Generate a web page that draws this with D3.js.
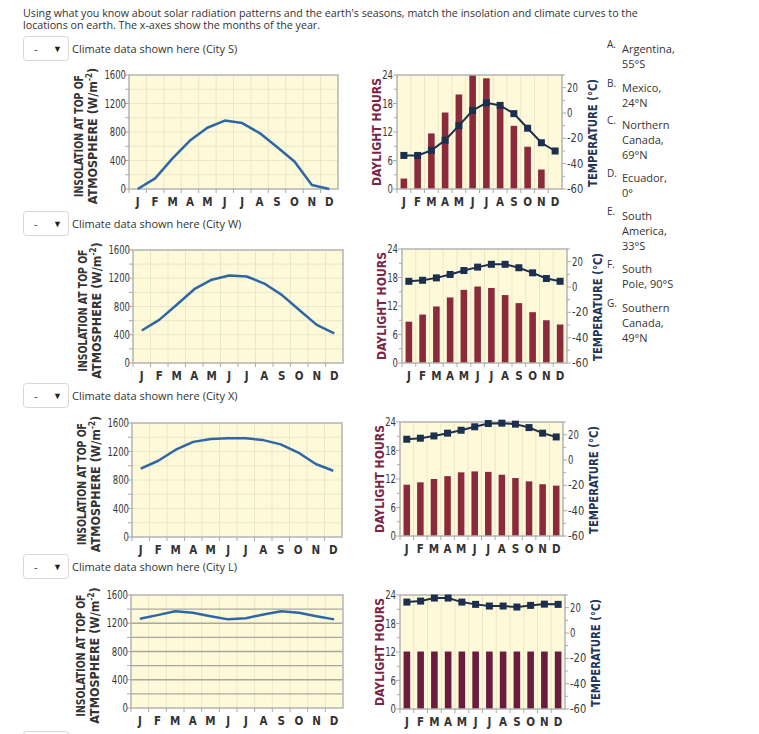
<!DOCTYPE html>
<html>
<head>
<meta charset="utf-8">
<script src="https://cdn.jsdelivr.net/npm/d3@7"></script>
<style>
body { margin: 0; background: #fff; }
text { font-family: "Open Sans", sans-serif; }
.ax { font-family: "DejaVu Sans Condensed", "DejaVu Sans", sans-serif; font-stretch: condensed; }
</style>
</head>
<body>
<div id="chart"></div>
<script>
// months on every x axis
var months = ["J","F","M","A","M","J","J","A","S","O","N","D"];
var cityNames = ["S", "W", "X", "L"];

// insolation at top of atmosphere, W/m2
var insolS = [0, 150, 430, 680, 860, 960, 925, 785, 590, 385, 55, 0];
var insolW = [460, 610, 825, 1045, 1180, 1240, 1225, 1125, 965, 750, 540, 420];
var insolX = [960, 1070, 1225, 1335, 1375, 1385, 1385, 1360, 1300, 1185, 1025, 930];
var insolL = [1265, 1315, 1370, 1350, 1300, 1255, 1270, 1325, 1370, 1350, 1300, 1255];

// daylight hours (bars)
var dayS = [2.2, 7.2, 11.7, 16.1, 19.9, 24, 23.3, 17.3, 13.3, 8.9, 4.1, 0];
var dayW = [8.7, 10.2, 11.9, 13.8, 15.4, 16.1, 15.8, 14.3, 12.6, 10.7, 9.0, 8.1];
var dayX = [10.8, 11.3, 12.0, 12.6, 13.4, 13.6, 13.5, 12.9, 12.2, 11.5, 10.9, 10.6];
var dayL = [12.1, 12.1, 12.1, 12.1, 12.1, 12.1, 12.1, 12.1, 12.1, 12.1, 12.1, 12.1];

// temperature, deg C
var tempS = [-33.5, -33.5, -29.5, -21.5, -10, 2, 8, 6, -0.5, -12, -23.5, -30];
var tempW = [4.5, 5.3, 7.2, 9.9, 13, 15.7, 17.9, 17.9, 15.2, 11.2, 6.7, 4.5];
var tempX = [16.4, 17.2, 19, 21.2, 23.5, 26.2, 28.8, 29.1, 28.3, 25.6, 21.2, 18.2];
var tempL = [24.4, 25.2, 27.6, 27.6, 24.4, 22.6, 21.3, 21.3, 20.5, 21.8, 22.8, 22.6];

var insolTicks = [0, 400, 800, 1200, 1600];
var dayTicks = [0, 6, 12, 18, 24];
var tempTicks = [-60, -40, -20, 0, 20];

// answer choices
var choiceLetters = ["A.", "B.", "C.", "D.", "E.", "F.", "G."];
var choiceLines = [
  ["Argentina,", "55°S"],
  ["Mexico,", "24°N"],
  ["Northern", "Canada,", "69°N"],
  ["Ecuador,", "0°"],
  ["South", "America,", "33°S"],
  ["South", "Pole, 90°S"],
  ["Southern", "Canada,", "49°N"]
];

var insols = [insolS, insolW, insolX, insolL];
var days = [dayS, dayW, dayX, dayL];
var temps = [tempS, tempW, tempX, tempL];

// layout of the four rows (plot boxes)
var rows = [
  {sel: 53,  L: [129, 338, 75, 189],  R: [397, 562, 75, 189]},
  {sel: 228, L: [133, 343, 250, 363], R: [402, 567, 249, 363]},
  {sel: 400, L: [132, 342, 423, 537], R: [400, 563, 422, 536]},
  {sel: 571, L: [131, 343, 595, 708], R: [400, 565, 595, 709]}
];

var svg = d3.select("#chart").append("svg")
  .attr("width", 759).attr("height", 734);

// question text
svg.append("text").attr("x", 23).attr("y", 16.5).attr("font-size", 10.7).attr("fill", "#333")
  .text("Using what you know about solar radiation patterns and the earth's seasons, match the insolation and climate curves to the");
svg.append("text").attr("x", 23).attr("y", 29).attr("font-size", 10.7).attr("fill", "#333")
  .text("locations on earth.  The x-axes show the months of the year.");

// choices on the right
var cy = [48, 87, 124, 177, 215, 268, 307];
choiceLetters.forEach(function(l, i) {
  svg.append("text").attr("x", 607).attr("y", cy[i]).attr("font-size", 10).attr("fill", "#333").text(l);
  choiceLines[i].forEach(function(s, j) {
    svg.append("text").attr("x", 622).attr("y", cy[i] + 5 + j * 15)
      .attr("font-size", 11).attr("fill", "#333").text(s);
  });
});

function dropdown(y) {
  var g = svg.append("g");
  g.append("rect").attr("x", 23.5).attr("y", y - 16.5).attr("width", 45).attr("height", 24)
    .attr("rx", 3).attr("fill", "#fff").attr("stroke", "#d8d8d8");
  g.append("text").attr("x", 34).attr("y", y).attr("font-size", 11).attr("fill", "#333").text("-");
  g.append("text").attr("x", 53).attr("y", y - 1).attr("font-size", 9).attr("fill", "#222").text("▼");
  return g;
}

rows.forEach(function(r, k) {
  dropdown(r.sel);
  svg.append("text").attr("x", 72).attr("y", r.sel).attr("font-size", 11).attr("fill", "#333")
    .text("Climate data shown here (City " + cityNames[k] + ")");
  drawInsol(r.L, insols[k], k == 3);
  drawClimate(r.R, days[k], temps[k], k == 3);
});
// next dropdown, cut off at the bottom
svg.append("rect").attr("x", 23.5).attr("y", 731.5).attr("width", 45).attr("height", 24)
  .attr("rx", 3).attr("fill", "#fff").attr("stroke", "#d8d8d8");

function monthAxis(g, x, bottom) {
  x.domain().forEach(function(d, i) {
    g.append("line").attr("x1", x(d)).attr("x2", x(d)).attr("y1", bottom).attr("y2", bottom + 4)
      .attr("stroke", "#aaa");
  });
  g.selectAll(".mlab").data(months).enter().append("text")
    .attr("class", "ax")
    .attr("x", function(d, i) { return x(i) + x.bandwidth() / 2; })
    .attr("y", bottom + 17)
    .attr("text-anchor", "middle").attr("font-size", 11.5).attr("font-weight", "bold")
    .attr("fill", "#333").text(function(d) { return d; });
}

function tickText(sel) {
  // condensed look for axis numbers
  sel.attr("class", "ax").attr("font-size", 12).attr("fill", "#383838")
    .attr("textLength", function(d) { return String(d).length * 5.4; })
    .attr("lengthAdjust", "spacingAndGlyphs");
}

function drawInsol(b, vals, darkGrid) {
  var g = svg.append("g");
  var x = d3.scaleBand().domain(d3.range(12)).range([b[0], b[1]]);
  var y = d3.scaleLinear().domain([0, 1600]).range([b[3], b[2]]);

  g.append("rect").attr("x", b[0]).attr("y", b[2]).attr("width", b[1] - b[0]).attr("height", b[3] - b[2])
    .attr("fill", "#fdf9d9");
  // grid
  d3.range(1, 12).forEach(function(i) {
    g.append("line").attr("x1", x(i)).attr("x2", x(i)).attr("y1", b[2]).attr("y2", b[3])
      .attr("stroke", "#ebe7c8").attr("stroke-width", 1);
  });
  d3.range(200, 1600, 200).forEach(function(v) {
    g.append("line").attr("x1", b[0]).attr("x2", b[1]).attr("y1", y(v)).attr("y2", y(v))
      .attr("stroke", darkGrid ? "#a8a8a0" : "#ebe7c8").attr("stroke-width", darkGrid ? 1.3 : 1);
  });
  g.append("rect").attr("x", b[0]).attr("y", b[2]).attr("width", b[1] - b[0]).attr("height", b[3] - b[2])
    .attr("fill", "none").attr("stroke", "#b4b4b4").attr("stroke-width", 1.5);

  // y ticks
  d3.range(0, 1601, 200).forEach(function(v) {
    g.append("line").attr("x1", b[0] - 4).attr("x2", b[0]).attr("y1", y(v)).attr("y2", y(v))
      .attr("stroke", "#aaa");
  });
  g.selectAll(".yl").data(insolTicks).enter().append("text")
    .attr("x", b[0] - 3).attr("y", function(d) { return y(d) + 4; })
    .attr("text-anchor", "end")
    .call(tickText)
    .text(function(d) { return d; });
  monthAxis(g, x, b[3]);

  var line = d3.line()
    .x(function(d, i) { return x(i) + x.bandwidth() / 2; })
    .y(function(d) { return y(d); });
  g.append("path").datum(vals).attr("d", line).attr("fill", "none")
    .attr("stroke", "#2e67a6").attr("stroke-width", 2.5).attr("stroke-linejoin", "round");

  // axis title
  var mid = (b[2] + b[3]) / 2 + 4;
  g.append("text").attr("class", "ax")
    .attr("transform", "translate(" + (b[0] - 46) + "," + mid + ") rotate(-90)")
    .attr("text-anchor", "middle").attr("font-size", 12.5).attr("font-weight", "bold").attr("fill", "#333")
    .attr("textLength", 122).attr("lengthAdjust", "spacingAndGlyphs")
    .text("INSOLATION AT TOP OF");
  var t = g.append("text").attr("class", "ax")
    .attr("transform", "translate(" + (b[0] - 32) + "," + mid + ") rotate(-90)")
    .attr("text-anchor", "middle").attr("font-size", 12.5).attr("font-weight", "bold").attr("fill", "#333");
  t.append("tspan").text("ATMOSPHERE (W/m");
  t.append("tspan").attr("font-size", 8).attr("dy", -5).text("-2");
  t.append("tspan").attr("dy", 5).text(")");
}

function drawClimate(b, hours, temp, dark) {
  var g = svg.append("g");
  var x = d3.scaleBand().domain(d3.range(12)).range([b[0], b[1]]).paddingInner(0.52).paddingOuter(0.26);
  var xb = d3.scaleBand().domain(d3.range(12)).range([b[0], b[1]]);
  var y = d3.scaleLinear().domain([0, 24]).range([b[3], b[2]]);
  var yt = d3.scaleLinear().domain([-60, 30]).range([b[3], b[2]]);

  g.append("rect").attr("x", b[0]).attr("y", b[2]).attr("width", b[1] - b[0]).attr("height", b[3] - b[2])
    .attr("fill", "#fdf9d9");
  d3.range(1, 12).forEach(function(i) {
    g.append("line").attr("x1", xb(i)).attr("x2", xb(i)).attr("y1", b[2]).attr("y2", b[3])
      .attr("stroke", "#ebe7c8");
  });

  g.selectAll(".bar").data(hours).enter().append("rect")
    .attr("x", function(d, i) { return x(i); })
    .attr("width", x.bandwidth())
    .attr("y", function(d) { return y(d); })
    .attr("height", function(d) { return b[3] - y(d); })
    .attr("fill", dark ? "#6b1b3d" : "#8a2a3b");

  g.append("rect").attr("x", b[0]).attr("y", b[2]).attr("width", b[1] - b[0]).attr("height", b[3] - b[2])
    .attr("fill", "none").attr("stroke", "#b4b4b4").attr("stroke-width", 1.5);

  // left ticks
  d3.range(0, 25, 3).forEach(function(v) {
    g.append("line").attr("x1", b[0] - (v % 6 ? 3 : 4)).attr("x2", b[0]).attr("y1", y(v)).attr("y2", y(v))
      .attr("stroke", "#aaa");
  });
  g.selectAll(".yl").data(dayTicks).enter().append("text")
    .attr("x", b[0] - 4).attr("y", function(d) { return y(d) + 4; })
    .attr("text-anchor", "end")
    .call(tickText)
    .text(function(d) { return d; });
  // right ticks
  d3.range(-60, 31, 10).forEach(function(v) {
    g.append("line").attr("x1", b[1]).attr("x2", b[1] + (v % 20 ? 3 : 4)).attr("y1", yt(v)).attr("y2", yt(v))
      .attr("stroke", "#aaa");
  });
  g.selectAll(".tl").data(tempTicks).enter().append("text")
    .attr("x", b[1] + 5).attr("y", function(d) { return yt(d) + 4; })
    .call(tickText)
    .text(function(d) { return d; });
  monthAxis(g, xb, b[3]);

  var line = d3.line()
    .x(function(d, i) { return xb(i) + xb.bandwidth() / 2; })
    .y(function(d) { return yt(d); });
  g.append("path").datum(temp).attr("d", line).attr("fill", "none")
    .attr("stroke", "#1d2f4e").attr("stroke-width", 2);
  g.selectAll(".pt").data(temp).enter().append("rect")
    .attr("x", function(d, i) { return xb(i) + xb.bandwidth() / 2 - 3.5; })
    .attr("y", function(d) { return yt(d) - 3.5; })
    .attr("width", 7).attr("height", 7).attr("fill", "#1d2f4e");

  var mid = (b[2] + b[3]) / 2;
  g.append("text").attr("class", "ax")
    .attr("transform", "translate(" + (b[0] - 16) + "," + mid + ") rotate(-90)")
    .attr("text-anchor", "middle").attr("font-size", 12.5).attr("font-weight", "bold").attr("fill", "#7a2646")
    .attr("textLength", 108).attr("lengthAdjust", "spacingAndGlyphs")
    .text("DAYLIGHT HOURS");
  g.append("text").attr("class", "ax")
    .attr("transform", "translate(" + (b[1] + 35) + "," + (mid + 1) + ") rotate(-90)")
    .attr("text-anchor", "middle").attr("font-size", 12.5).attr("font-weight", "bold").attr("fill", "#1f3556")
    .attr("textLength", 108).attr("lengthAdjust", "spacingAndGlyphs")
    .text("TEMPERATURE (°C)");
}
</script>
</body>
</html>
